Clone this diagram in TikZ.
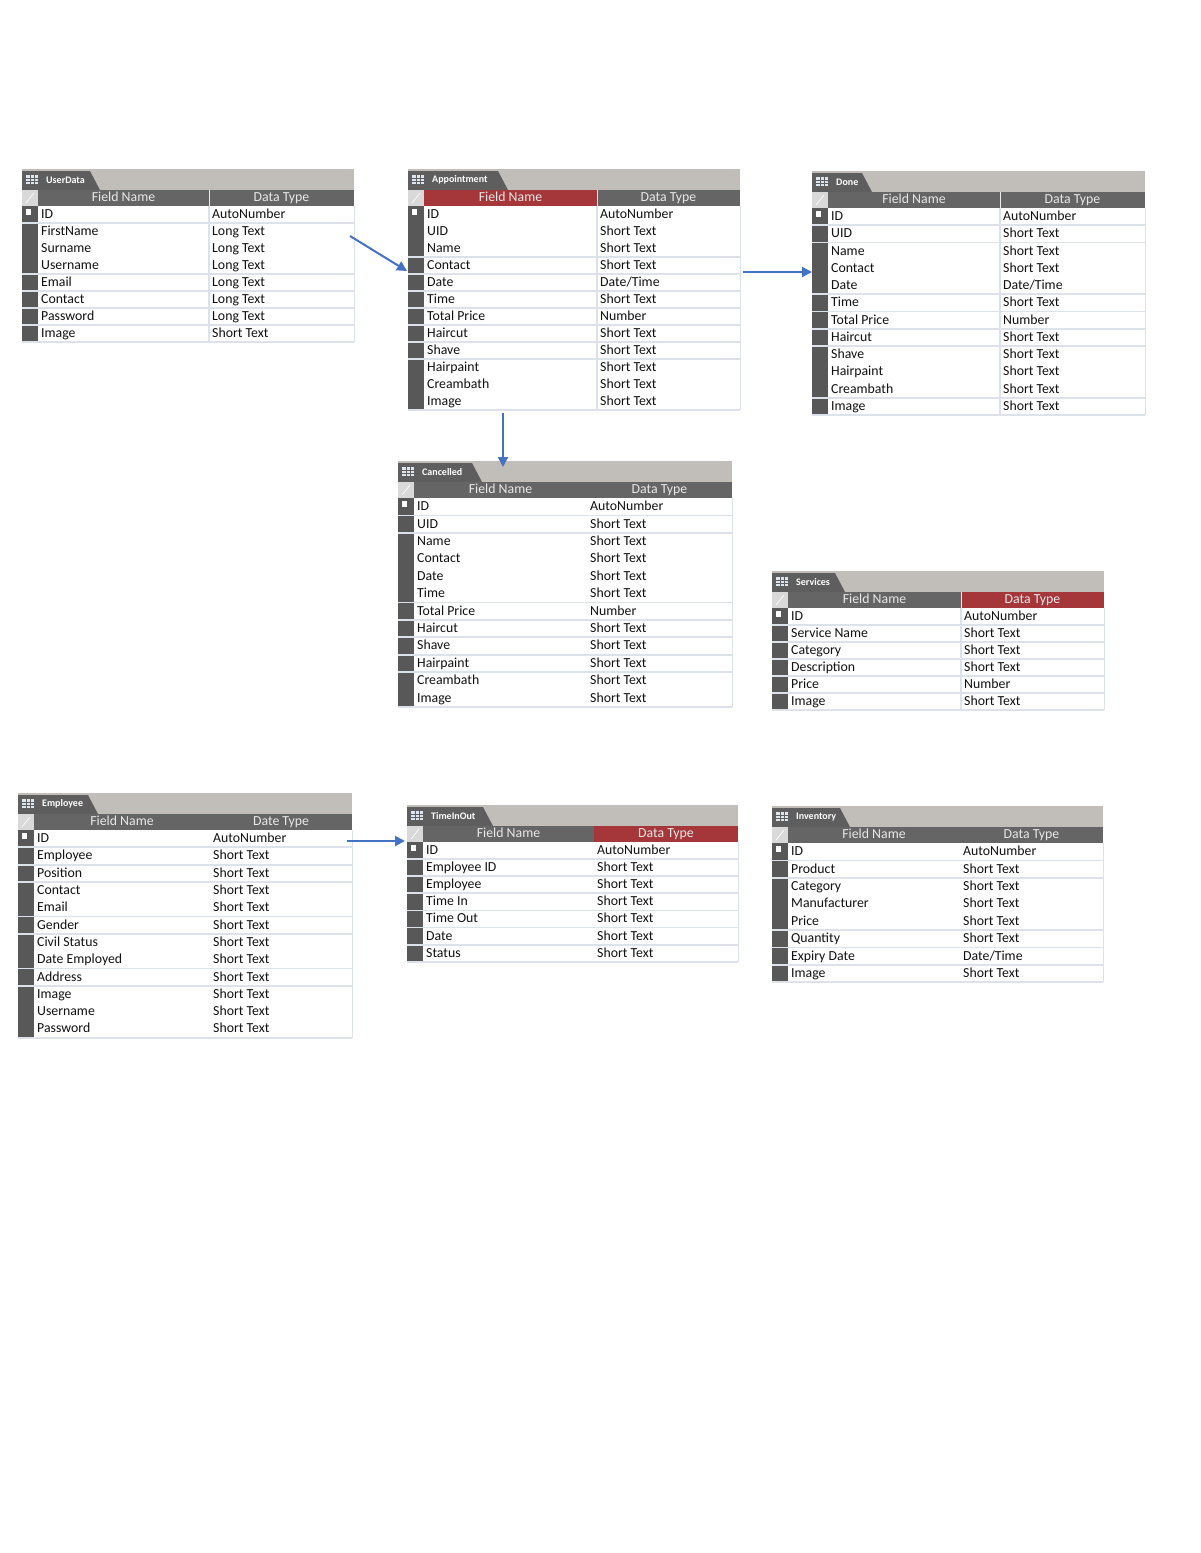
\documentclass[tikz,border=0pt]{standalone}
\usepackage{fontspec}
\setmainfont{Carlito}
\usetikzlibrary{arrows.meta}
\definecolor{tbar}{HTML}{C1BDB9}
\definecolor{tabdark}{HTML}{5E5E5E}
\definecolor{hdr}{HTML}{656565}
\definecolor{hred}{HTML}{A5363A}
\definecolor{seldark}{HTML}{585858}
\definecolor{sepc}{HTML}{DCE1EA}
\definecolor{hsel}{HTML}{D9D9D9}
\definecolor{hdrtext}{HTML}{E8E8E8}
\definecolor{rowtext}{HTML}{111111}
\definecolor{arrowblue}{HTML}{4472C4}
\definecolor{iconc}{HTML}{DDE5F0}
\tikzset{
  rowtxt/.style={inner sep=0pt, text height=9pt, text depth=3pt, text=rowtext, font=\fontsize{13.8}{14}\selectfont, anchor=west},
  hdrtxt/.style={inner sep=0pt, text height=9pt, text depth=3pt, text=hdrtext, font=\fontsize{13.8}{14}\selectfont},
  ttltxt/.style={inner sep=0pt, text=white, font=\fontsize{10}{11}\selectfont\bfseries, anchor=west},
  arr/.style={draw=arrowblue, line width=2pt, -{Triangle[length=10pt,width=10pt]}}
}
\newcommand\dslash{/}
\def\TBfield{field}
\def\TBtype{type}
\newcommand\dbsetup[3]{\def\TBhl{#1}\def\TBdiv{#2}\def\TBtyhd{#3}}
% #1 id, #2 xl, #3 xr, #4 split, #5 header bottom, #6 row height, #7 title, #8 tab width, #9 rows
\newcommand\dbtable[9]{%
  \pgfmathsetmacro\TBht{#5-16}%
  \pgfmathsetmacro\TBtt{#5-37}%
  \pgfmathsetmacro\TBsr{#2+16}%
  % title bar and tab
  \fill[tbar] (#2,\TBtt) rectangle (#3,\TBht);
  \fill[tabdark] (#2,{\TBtt+2}) -- ({#2+#8-10},{\TBtt+2}) -- ({#2+#8},\TBht) -- (#2,\TBht) -- cycle;
  \fill[iconc] ({#2+4},{\TBtt+6}) rectangle ({#2+16},{\TBtt+15});
  \draw[tabdark, line width=0.6pt] ({#2+4},{\TBtt+9}) -- ({#2+16},{\TBtt+9})
     ({#2+4},{\TBtt+12}) -- ({#2+16},{\TBtt+12})
     ({#2+8},{\TBtt+6}) -- ({#2+8},{\TBtt+15}) ({#2+12},{\TBtt+6}) -- ({#2+12},{\TBtt+15});
  \node[ttltxt] (#1title) at ({#2+24},{\TBtt+11}) {#7};
  % header
  \fill[hdr] (#2,\TBht) rectangle (#3,#5);
  \ifx\TBhl\TBfield \fill[hred] (\TBsr,\TBht) rectangle (#4,#5); \fi
  \ifx\TBhl\TBtype \fill[hred] (#4,\TBht) rectangle (#3,#5); \fi
  \fill[hsel] (#2,\TBht) rectangle (\TBsr,#5);
  \draw[white, line width=0.6pt] ({#2+4},{#5-3}) -- ({#2+12},{\TBht+3});
  \ifnum\TBdiv=1 \draw[white!85!gray, line width=1pt] (#4,\TBht) -- (#4,#5); \fi
  \node[hdrtxt] (#1hf) at ({(\TBsr+#4)/2},{#5-7.5}) {Field Name};
  \node[hdrtxt] (#1ht) at ({(#4+#3)/2},{#5-7.5}) {\TBtyhd};
  % rows
  \foreach \f/\t/\s [count=\i] in {#9} {\xdef\TBn{\i}}
  \pgfmathsetmacro\TBbot{#5+\TBn*#6}%
  \fill[seldark] (#2,#5) rectangle (\TBsr,\TBbot);
  \ifnum\TBdiv=1 \draw[sepc, line width=1.2pt] (#4,#5) -- (#4,\TBbot); \fi
  \draw[sepc, line width=1pt] (#3,#5) -- (#3,\TBbot);
  \foreach \f/\t/\s [count=\i] in {#9} {
    \pgfmathsetmacro\TBy{#5+(\i-1)*#6}
    \ifnum\i>1 \ifnum\s=1 \draw[sepc, line width=1.8pt] (#2,\TBy) -- (#3,\TBy); \fi\fi
    \node[rowtxt] (#1f\i) at ({\TBsr+3},{\TBy+#6/2+1}) {\f};
    \node[rowtxt] (#1t\i) at ({#4+3},{\TBy+#6/2+1}) {\t};
  }
  \draw[sepc, line width=1.8pt] (#2,\TBbot) -- (#3,\TBbot);
  \fill[white] ({#2+4},{#5+3}) rectangle ({#2+9},{#5+9});
}
\begin{document}
\begin{tikzpicture}[x=1pt,y=-1pt]
\useasboundingbox[fill=white] (0,0) rectangle (1200,1553);

\dbsetup{none}{1}{Data Type}
\dbtable{user}{22}{354}{209}{206}{17}{UserData}{78}{ID/AutoNumber/1,FirstName/Long Text/1,Surname/Long Text/0,Username/Long Text/0,Email/Long Text/1,Contact/Long Text/1,Password/Long Text/1,Image/Short Text/1}

\dbsetup{field}{1}{Data Type}
\dbtable{appt}{408}{740}{597}{206}{17}{Appointment}{100}{ID/AutoNumber/1,UID/Short Text/0,Name/Short Text/0,Contact/Short Text/1,Date/Date\dslash Time/1,Time/Short Text/1,Total Price/Number/1,Haircut/Short Text/1,Shave/Short Text/1,Hairpaint/Short Text/1,Creambath/Short Text/0,Image/Short Text/0}

\dbsetup{none}{1}{Data Type}
\dbtable{done}{812}{1145}{1000}{208}{17.25}{Done}{60}{ID/AutoNumber/1,UID/Short Text/1,Name/Short Text/1,Contact/Short Text/0,Date/Date\dslash Time/0,Time/Short Text/1,Total Price/Number/1,Haircut/Short Text/1,Shave/Short Text/1,Hairpaint/Short Text/0,Creambath/Short Text/0,Image/Short Text/1}

\dbsetup{none}{0}{Data Type}
\dbtable{canc}{398}{732}{587}{498}{17.4}{Cancelled}{84}{ID/AutoNumber/1,UID/Short Text/1,Name/Short Text/1,Contact/Short Text/0,Date/Short Text/0,Time/Short Text/0,Total Price/Number/1,Haircut/Short Text/1,Shave/Short Text/1,Hairpaint/Short Text/1,Creambath/Short Text/1,Image/Short Text/0}

\dbsetup{type}{1}{Data Type}
\dbtable{serv}{772}{1104}{961}{608}{17}{Services}{73}{ID/AutoNumber/1,Service Name/Short Text/1,Category/Short Text/1,Description/Short Text/1,Price/Number/1,Image/Short Text/1}

\dbsetup{none}{0}{Date Type}
\dbtable{emp}{18}{352}{210}{830}{17.3}{Employee}{80}{ID/AutoNumber/1,Employee/Short Text/1,Position/Short Text/1,Contact/Short Text/1,Email/Short Text/0,Gender/Short Text/1,Civil Status/Short Text/1,Date Employed/Short Text/0,Address/Short Text/1,Image/Short Text/1,Username/Short Text/0,Password/Short Text/0}

\dbsetup{type}{0}{Data Type}
\dbtable{tio}{407}{738}{594}{842}{17.1}{TimeInOut}{86}{ID/AutoNumber/1,Employee ID/Short Text/1,Employee/Short Text/1,Time In/Short Text/1,Time Out/Short Text/1,Date/Short Text/1,Status/Short Text/1}

\dbsetup{none}{0}{Data Type}
\dbtable{inv}{772}{1103}{960}{843}{17.4}{Inventory}{78}{ID/AutoNumber/1,Product/Short Text/1,Category/Short Text/1,Manufacturer/Short Text/0,Price/Short Text/0,Quantity/Short Text/1,Expiry Date/Date\dslash Time/1,Image/Short Text/1}

% connectors
\coordinate (a1s) at (350,236);
\coordinate (a1e) at (407,271);
\coordinate (a2s) at (743,272);
\coordinate (a2e) at (812,272);
\coordinate (a3s) at (503,413);
\coordinate (a3e) at (503,467);
\coordinate (a4s) at (347,841);
\coordinate (a4e) at (405,841);
\draw[arr] (a1s) -- (a1e);
\draw[arr] (a2s) -- (a2e);
\draw[arr] (a3s) -- (a3e);
\draw[arr] (a4s) -- (a4e);
\end{tikzpicture}
\end{document}
